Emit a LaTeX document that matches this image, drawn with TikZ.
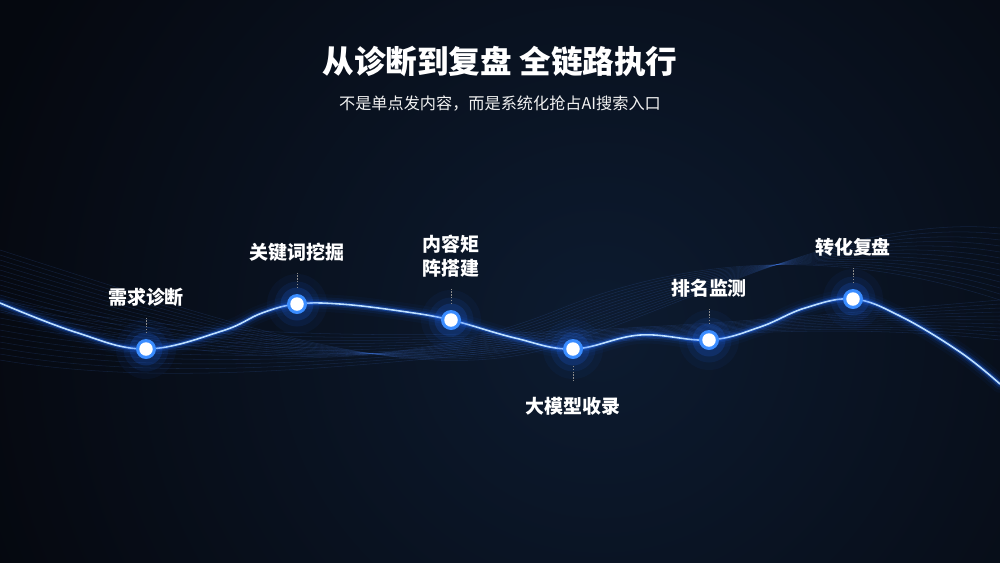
\documentclass[tikz,border=0pt]{standalone}
\usepackage{fontspec}
\newfontfamily\cjk{Noto Sans CJK SC}
\usetikzlibrary{positioning}

\definecolor{bgdark}{HTML}{05080F}
\definecolor{bgmid}{HTML}{0D1B30}
\definecolor{glowblue}{HTML}{1F6BFF}
\definecolor{linecore}{HTML}{BFE1FF}
\definecolor{ringblue}{HTML}{3A8CFF}

\tikzset{
  stage/.style={font=\cjk\bfseries\fontsize{10.8}{13.8}\selectfont, text=white, align=center, inner sep=0pt},
  stem/.style={white!55!black, line width=0.4pt, dash pattern=on 0.8pt off 0.8pt},
  wave/.style={glowblue!80!white, line width=0.3pt, opacity=0.15},
}

\newcommand\mainpath{plot[smooth, tension=0.65] coordinates {(s0) (s1) (n1) (s2) (s2b) (n2) (s3) (s3b) (n3) (s4) (n4) (s5) (n5) (s6) (s6b) (n6) (s7) (s8) (s9)}}

\begin{document}
\begin{tikzpicture}[x=0.02cm, y=-0.02cm]
  \useasboundingbox (0,0) rectangle (1000,562);
  \fill[bgdark] (0,0) rectangle (1000,562);
  \shade[inner color=bgmid, outer color=bgdark] (600,330) circle (650);

  % faint background strands
  \foreach \k in {0,...,12}
    \draw[wave] (0,{250+5*\k}) .. controls (250,{330+4*\k}) and (420,{390-2*\k}) .. (560,{345-3*\k})
      .. controls (700,{300-4*\k}) and (850,{215+3*\k}) .. (1000,{228+6*\k});
  \foreach \k in {0,...,10}
    \draw[wave] (0,{300+6*\k}) .. controls (300,{360+5*\k}) and (650,{330-3*\k}) .. (1000,{300+4*\k});

  % points on the curve
  \coordinate (s0) at (0,303);
  \coordinate (s1) at (75,332);
  \coordinate (n1) at (146,349);
  \coordinate (s2) at (222,331);
  \coordinate (s2b) at (262,313);
  \coordinate (n2) at (297,304);
  \coordinate (s3) at (340,304);
  \coordinate (s3b) at (400,311);
  \coordinate (n3) at (451,320);
  \coordinate (s4) at (515,338);
  \coordinate (n4) at (573,349);
  \coordinate (s5) at (640,335);
  \coordinate (n5) at (709,340);
  \coordinate (s6) at (760,327);
  \coordinate (s6b) at (805,308);
  \coordinate (n6) at (853,299);
  \coordinate (s7) at (900,316);
  \coordinate (s8) at (960,352);
  \coordinate (s9) at (1000,384);

  % glowing curve
  \foreach \w/\o in {10/0.04, 6.5/0.08, 4/0.16, 2.2/0.35}
    \draw[glowblue, line width=\w pt, opacity=\o, line cap=round] \mainpath;
  \draw[linecore, line width=0.9pt] \mainpath;

  % dots
  \foreach \p in {n1,n2,n3,n4,n5,n6} {
    \foreach \r/\o in {0.6/0.05, 0.45/0.09, 0.33/0.18} \fill[glowblue, opacity=\o] (\p) circle (\r cm);
    \fill[ringblue] (\p) circle (0.2cm);
    \fill[white] (\p) circle (0.135cm);
  }

  % labels
  \node[stage, anchor=south, above=0.85cm of n1] (l1) {需求诊断};
  \node[stage, anchor=south, above=0.85cm of n2] (l2) {关键词挖掘};
  \node[stage, anchor=south, above=0.85cm of n3] (l3) {内容矩\\阵搭建};
  \node[stage, anchor=north, below=0.95cm of n4] (l4) {大模型收录};
  \node[stage, anchor=south, above=0.85cm of n5] (l5) {排名监测};
  \node[stage, anchor=south, above=0.85cm of n6] (l6) {转化复盘};

  \foreach \p in {n1,n2,n3,n5,n6}
    \draw[stem] ([yshift=0.32cm]\p) -- ([yshift=0.62cm]\p);
  \draw[stem] ([yshift=-0.34cm]n4) -- ([yshift=-0.66cm]n4);

  % heading
  \node[font=\cjk\bfseries\fontsize{18}{20}\selectfont, text=white] (title) at (500,62) {从诊断到复盘 全链路执行};
  \node[font=\cjk\fontsize{9.2}{11}\selectfont, text=white!95!black] (subtitle) at (500,104) {不是单点发内容，而是系统化抢占AI搜索入口};
\end{tikzpicture}
\end{document}
